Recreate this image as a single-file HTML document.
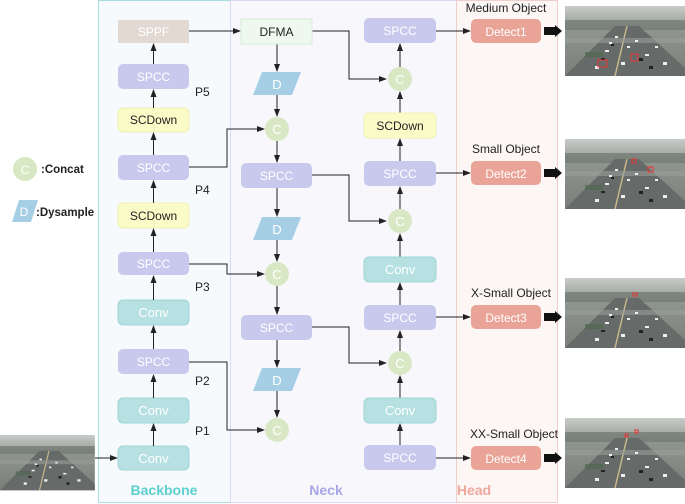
<!DOCTYPE html>
<html><head><meta charset="utf-8"><style>
html,body{margin:0;padding:0;background:#fff}
svg{display:block}
text{font-family:"Liberation Sans",Arial,sans-serif}
</style></head><body>
<svg width="685" height="504" viewBox="0 0 685 504" xmlns="http://www.w3.org/2000/svg">
<defs>
<marker id="a" markerWidth="8" markerHeight="8" refX="7" refY="4" orient="auto" markerUnits="userSpaceOnUse"><path d="M0,1 L8,4 L0,7 Z" fill="#222"/></marker>
<linearGradient id="sky" x1="0" y1="0" x2="0" y2="1"><stop offset="0" stop-color="#c8ccc8"/><stop offset="0.35" stop-color="#8e948e"/><stop offset="1" stop-color="#7a7e7a"/></linearGradient>
<g id="img">
<rect width="120" height="70" fill="url(#sky)"/>
<rect x="0" y="14" width="120" height="10" fill="#6f766f" opacity="0.7"/>
<polygon points="0,70 50,20 74,20 120,62 120,70" fill="#666a68"/>
<line x1="62" y1="20" x2="50" y2="70" stroke="#c8b88a" stroke-width="1.5"/>
<rect x="0" y="32" width="120" height="5" fill="#9a9e9a" opacity="0.6"/>
<rect x="20" y="46" width="18" height="5" fill="#4f6a4f" opacity="0.7"/>
<g fill="#eee"><rect x="50" y="30" width="3" height="2"/><rect x="70" y="34" width="3" height="2"/><rect x="40" y="44" width="4" height="2"/><rect x="80" y="48" width="4" height="2"/><rect x="56" y="56" width="4" height="3"/><rect x="30" y="60" width="4" height="3"/><rect x="90" y="40" width="3" height="2"/><rect x="62" y="40" width="3" height="2"/><rect x="98" y="56" width="4" height="3"/><rect x="44" y="36" width="3" height="2"/></g>
<g fill="#222"><rect x="46" y="38" width="3" height="2"/><rect x="74" y="52" width="4" height="3"/><rect x="36" y="52" width="4" height="2"/><rect x="84" y="60" width="4" height="3"/></g>
</g>
</defs>

<rect x="98.5" y="0.5" width="132" height="502" fill="#f6fafc" stroke="#a9dde0"/>
<rect x="230.5" y="0.5" width="226" height="502" fill="#f8f8fc" stroke="#d8daf0"/>
<rect x="456.5" y="0.5" width="101" height="502" fill="#fcf6f4" stroke="#f0cfcb"/>
<text x="164" y="495" font-size="14" font-weight="bold" fill="#5ecfcf" text-anchor="middle">Backbone</text>
<text x="326" y="495" font-size="14" font-weight="bold" fill="#a9a6e6" text-anchor="middle">Neck</text>
<text x="474" y="495" font-size="14" font-weight="bold" fill="#f0a89c" text-anchor="middle">Head</text>

<circle cx="25" cy="169" r="12" fill="#d9e8c4"/><text x="25" y="174" font-size="12" fill="#fff" text-anchor="middle">C</text>
<text x="41" y="173" font-size="11.5" font-weight="bold" fill="#222">:Concat</text>
<polygon points="12,222 19,200 38,200 31,222" fill="#a6cfe6"/><text x="24" y="216" font-size="12" fill="#fff" text-anchor="middle">D</text>
<text x="36" y="216" font-size="11.5" font-weight="bold" fill="#222">:Dysample</text>

<g transform="translate(0,435) scale(0.79,0.79)"><use href="#img"/></g>
<line x1="95" y1="458" x2="117" y2="458" stroke="#222" marker-end="url(#a)"/>

<g font-size="12" text-anchor="middle">
<rect x="118" y="20" width="71" height="23" fill="#e2dad2"/><text x="153.5" y="36" fill="#fff">SPPF</text>
<rect x="118" y="64" width="71" height="25" rx="5" fill="#c9c9ee"/><text x="153.5" y="81" fill="#fff">SPCC</text>
<rect x="118" y="108" width="71" height="24" rx="5" fill="#fbfbc8" stroke="#f0f0b0"/><text x="153.5" y="124" fill="#222">SCDown</text>
<rect x="118" y="155" width="71" height="25" rx="5" fill="#c9c9ee"/><text x="153.5" y="172" fill="#fff">SPCC</text>
<rect x="118" y="203" width="71" height="25" rx="5" fill="#fbfbc8" stroke="#f0f0b0"/><text x="153.5" y="220" fill="#222">SCDown</text>
<rect x="118" y="252" width="71" height="23" rx="5" fill="#c9c9ee"/><text x="153.5" y="268" fill="#fff">SPCC</text>
<rect x="118" y="300" width="71" height="25" rx="5" fill="#b6e0e2" stroke="#9ed4d6"/><text x="153.5" y="317" fill="#fff" font-size="13">Conv</text>
<rect x="118" y="349" width="71" height="25" rx="5" fill="#c9c9ee"/><text x="153.5" y="366" fill="#fff">SPCC</text>
<rect x="118" y="398" width="71" height="25" rx="5" fill="#b6e0e2" stroke="#9ed4d6"/><text x="153.5" y="415" fill="#fff" font-size="13">Conv</text>
<rect x="118" y="446" width="71" height="24" rx="5" fill="#b6e0e2" stroke="#9ed4d6"/><text x="153.5" y="463" fill="#fff" font-size="13">Conv</text>
</g>
<g font-size="12" fill="#222">
<text x="195" y="96">P5</text><text x="195" y="194">P4</text><text x="195" y="291">P3</text><text x="195" y="385">P2</text><text x="195" y="435">P1</text>
</g>
<g stroke="#222" fill="none" marker-end="url(#a)">
<line x1="153.5" y1="446" x2="153.5" y2="424"/>
<line x1="153.5" y1="398" x2="153.5" y2="375"/>
<line x1="153.5" y1="349" x2="153.5" y2="326"/>
<line x1="153.5" y1="300" x2="153.5" y2="276"/>
<line x1="153.5" y1="252" x2="153.5" y2="229"/>
<line x1="153.5" y1="203" x2="153.5" y2="181"/>
<line x1="153.5" y1="155" x2="153.5" y2="133"/>
<line x1="153.5" y1="108" x2="153.5" y2="90"/>
<line x1="153.5" y1="64" x2="153.5" y2="44"/>
<line x1="189" y1="31" x2="240" y2="31"/>
<polyline points="189,167 227,167 227,129 264,129"/>
<polyline points="189,264 227,264 227,274 264,274"/>
<polyline points="189,362 227,362 227,430 264,430"/>
<line x1="277" y1="44" x2="277" y2="71"/>
<line x1="277" y1="95" x2="277" y2="116"/>
<line x1="277" y1="141" x2="277" y2="162"/>
<line x1="277" y1="188" x2="277" y2="216"/>
<line x1="277" y1="240" x2="277" y2="261"/>
<line x1="277" y1="286" x2="277" y2="314"/>
<line x1="277" y1="340" x2="277" y2="367"/>
<line x1="277" y1="391" x2="277" y2="417"/>
<polyline points="312,31 349,31 349,79 386,79"/>
<polyline points="312,175 349,175 349,221 386,221"/>
<polyline points="312,327 349,327 349,363 386,363"/>
<line x1="400" y1="445" x2="400" y2="424"/>
<line x1="400" y1="398" x2="400" y2="376"/>
<line x1="400" y1="351" x2="400" y2="331"/>
<line x1="400" y1="305" x2="400" y2="283"/>
<line x1="400" y1="257" x2="400" y2="234"/>
<line x1="400" y1="209" x2="400" y2="187"/>
<line x1="400" y1="161" x2="400" y2="139"/>
<line x1="400" y1="113" x2="400" y2="92"/>
<line x1="400" y1="67" x2="400" y2="44"/>
<line x1="436" y1="31" x2="470" y2="31"/>
<line x1="436" y1="173" x2="470" y2="173"/>
<line x1="436" y1="317" x2="470" y2="317"/>
<line x1="436" y1="458" x2="470" y2="458"/>
</g>

<g font-size="12" text-anchor="middle">
<rect x="241" y="19" width="71" height="25" fill="#eef8ee" stroke="#d6ecd6"/><text x="276.5" y="36" fill="#222">DFMA</text>
<polygon points="253,95 262,72 301,72 292,95" fill="#a6cfe6"/><text x="277" y="89" fill="#fff" font-size="13">D</text>
<circle cx="277" cy="129" r="12" fill="#d9e8c4"/><text x="277" y="134" fill="#fff" font-size="13">C</text>
<rect x="241" y="163" width="71" height="25" rx="5" fill="#c9c9ee"/><text x="276.5" y="180" fill="#fff">SPCC</text>
<polygon points="253,240 262,217 301,217 292,240" fill="#a6cfe6"/><text x="277" y="234" fill="#fff" font-size="13">D</text>
<circle cx="277" cy="274" r="12" fill="#d9e8c4"/><text x="277" y="279" fill="#fff" font-size="13">C</text>
<rect x="241" y="315" width="71" height="25" rx="5" fill="#c9c9ee"/><text x="276.5" y="332" fill="#fff">SPCC</text>
<polygon points="253,391 262,368 301,368 292,391" fill="#a6cfe6"/><text x="277" y="385" fill="#fff" font-size="13">D</text>
<circle cx="277" cy="430" r="12" fill="#d9e8c4"/><text x="277" y="435" fill="#fff" font-size="13">C</text>

<rect x="364" y="18" width="72" height="25" rx="5" fill="#c9c9ee"/><text x="400" y="35" fill="#fff">SPCC</text>
<circle cx="400" cy="79" r="12" fill="#d9e8c4"/><text x="400" y="84" fill="#fff" font-size="13">C</text>
<rect x="364" y="113" width="72" height="25" rx="5" fill="#fbfbc8" stroke="#f0f0b0"/><text x="400" y="130" fill="#222">SCDown</text>
<rect x="364" y="161" width="72" height="25" rx="5" fill="#c9c9ee"/><text x="400" y="178" fill="#fff">SPCC</text>
<circle cx="400" cy="221" r="12" fill="#d9e8c4"/><text x="400" y="226" fill="#fff" font-size="13">C</text>
<rect x="364" y="257" width="72" height="25" rx="5" fill="#b6e0e2" stroke="#9ed4d6"/><text x="400" y="274" fill="#fff" font-size="13">Conv</text>
<rect x="364" y="305" width="72" height="25" rx="5" fill="#c9c9ee"/><text x="400" y="322" fill="#fff">SPCC</text>
<circle cx="400" cy="363" r="12" fill="#d9e8c4"/><text x="400" y="368" fill="#fff" font-size="13">C</text>
<rect x="364" y="398" width="72" height="25" rx="5" fill="#b6e0e2" stroke="#9ed4d6"/><text x="400" y="415" fill="#fff" font-size="13">Conv</text>
<rect x="364" y="445" width="72" height="25" rx="5" fill="#c9c9ee"/><text x="400" y="462" fill="#fff">SPCC</text>

<rect x="471" y="19" width="70" height="24" rx="5" fill="#e9a397"/><text x="506" y="36" fill="#fff">Detect1</text>
<rect x="471" y="161" width="70" height="24" rx="5" fill="#e9a397"/><text x="506" y="178" fill="#fff">Detect2</text>
<rect x="471" y="305" width="70" height="24" rx="5" fill="#e9a397"/><text x="506" y="322" fill="#fff">Detect3</text>
<rect x="471" y="446" width="70" height="24" rx="5" fill="#e9a397"/><text x="506" y="463" fill="#fff">Detect4</text>
<text x="506" y="12" fill="#222">Medium Object</text>
<text x="506" y="153" fill="#222">Small Object</text>
<text x="511" y="297" fill="#222">X-Small Object</text>
<text x="514" y="438" fill="#222">XX-Small Object</text>
</g>

<g fill="#111">
<path d="M544,27 L555,27 L555,25 L562,31 L555,37 L555,35 L544,35 Z"/>
<path d="M544,169 L555,169 L555,167 L562,173 L555,179 L555,177 L544,177 Z"/>
<path d="M544,313 L555,313 L555,311 L562,317 L555,323 L555,321 L544,321 Z"/>
<path d="M544,454 L555,454 L555,452 L562,458 L555,464 L555,462 L544,462 Z"/>
</g>

<g transform="translate(565,6)"><use href="#img"/><rect x="33" y="54" width="9" height="7" fill="none" stroke="#e33" stroke-width="1"/><rect x="66" y="48" width="7" height="7" fill="none" stroke="#e33"/></g>
<g transform="translate(565,139)"><use href="#img"/><rect x="67" y="20" width="4" height="4" fill="none" stroke="#e33"/><rect x="83" y="28" width="5" height="5" fill="none" stroke="#e33"/></g>
<g transform="translate(565,278)"><use href="#img"/><rect x="68" y="15" width="4" height="3" fill="none" stroke="#e33"/></g>
<g transform="translate(565,418)"><use href="#img"/><rect x="70" y="12" width="3" height="3" fill="none" stroke="#e33"/><rect x="60" y="16" width="3" height="3" fill="none" stroke="#e33"/></g>
</svg>
</body></html>
